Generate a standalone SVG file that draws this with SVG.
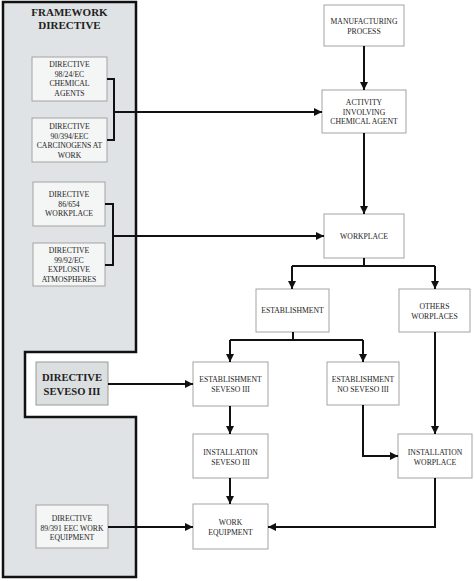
<svg xmlns="http://www.w3.org/2000/svg" width="474" height="581" viewBox="0 0 474 581">
<style>
text{font-family:"Liberation Serif","Times New Roman",serif;fill:#222;text-anchor:middle}
.s{font-size:7.7px}
.b{font-size:10.6px;font-weight:bold}
.t{font-size:11px;font-weight:bold}
.inner{fill:#f4f5f5;stroke:#a3a3a3;stroke-width:1}
.node{fill:#ffffff;stroke:#a3a3a3;stroke-width:1}
.sev{fill:#dbdfe0;stroke:#9a9a9a;stroke-width:1}
.c{fill:none;stroke:#111;stroke-width:2}
.a{marker-end:url(#ah)}
</style>
<defs>
<marker id="ah" markerUnits="userSpaceOnUse" markerWidth="9" markerHeight="8" refX="8" refY="4" orient="auto">
<path d="M0,0 L8,4 L0,8 Z" fill="#111"/>
</marker>
</defs>
<rect width="474" height="581" fill="#ffffff"/>
<g id="framework">
<path d="M3,2 H136 V352 H25 V417 H136 V577 H3 Z" fill="#dfe3e5" stroke="#111" stroke-width="2.5"/>
<text class="t" x="69.5" y="16">FRAMEWORK</text>
<text class="t" x="69.5" y="29">DIRECTIVE</text>
</g>
<g id="d9824">
<rect class="inner" x="32" y="57" width="75" height="44"/>
<text class="s" x="69.5" y="67">DIRECTIVE</text>
<text class="s" x="69.5" y="76.5">98/24/EC</text>
<text class="s" x="69.5" y="86">CHEMICAL</text>
<text class="s" x="69.5" y="95.5">AGENTS</text>
</g>
<g id="d90394">
<rect class="inner" x="32" y="118" width="75" height="44"/>
<text class="s" x="69.5" y="129">DIRECTIVE</text>
<text class="s" x="69.5" y="138.5">90/394/EEC</text>
<text class="s" x="69.5" y="148">CARCINOGENS AT</text>
<text class="s" x="69.5" y="157.5">WORK</text>
</g>
<g id="d86654">
<rect class="inner" x="33" y="182" width="72" height="44"/>
<text class="s" x="69" y="197">DIRECTIVE</text>
<text class="s" x="69" y="206.5">86/654</text>
<text class="s" x="69" y="216">WORKPLACE</text>
</g>
<g id="d9992">
<rect class="inner" x="33" y="243" width="72" height="43"/>
<text class="s" x="69" y="253">DIRECTIVE</text>
<text class="s" x="69" y="262.5">99/92/EC</text>
<text class="s" x="69" y="272">EXPLOSIVE</text>
<text class="s" x="69" y="281.5">ATMOSPHERES</text>
</g>
<g id="seveso">
<rect class="sev" x="36" y="362" width="72" height="43"/>
<text class="b" x="72" y="381">DIRECTIVE</text>
<text class="b" x="72" y="395">SEVESO III</text>
</g>
<g id="d89391">
<rect class="inner" x="36" y="505" width="72" height="43"/>
<text class="s" x="72" y="521">DIRECTIVE</text>
<text class="s" x="72" y="530.5">89/391 EEC WORK</text>
<text class="s" x="72" y="540">EQUIPMENT</text>
</g>
<g id="manufacturing">
<rect class="node" x="324" y="5" width="80" height="41"/>
<text class="s" x="364" y="24">MANUFACTURING</text>
<text class="s" x="364" y="33.5">PROCESS</text>
</g>
<g id="activity">
<rect class="node" x="322" y="90" width="84" height="43"/>
<text class="s" x="364" y="105">ACTIVITY</text>
<text class="s" x="364" y="114.5">INVOLVING</text>
<text class="s" x="364" y="124">CHEMICAL AGENT</text>
</g>
<g id="workplace">
<rect class="node" x="324" y="214" width="80" height="44"/>
<text class="s" x="364" y="239">WORKPLACE</text>
</g>
<g id="establishment">
<rect class="node" x="256" y="289" width="73" height="43"/>
<text class="s" x="292.5" y="313">ESTABLISHMENT</text>
</g>
<g id="others">
<rect class="node" x="399" y="289" width="71" height="43"/>
<text class="s" x="434.5" y="309">OTHERS</text>
<text class="s" x="434.5" y="318.5">WORPLACES</text>
</g>
<g id="estSeveso">
<rect class="node" x="193" y="362" width="75" height="44"/>
<text class="s" x="230.5" y="382">ESTABLISHMENT</text>
<text class="s" x="230.5" y="391.5">SEVESO III</text>
</g>
<g id="estNoSeveso">
<rect class="node" x="327" y="362" width="72" height="43"/>
<text class="s" x="363" y="382">ESTABLISHMENT</text>
<text class="s" x="363" y="391.5">NO SEVESO III</text>
</g>
<g id="instSeveso">
<rect class="node" x="193" y="434" width="75" height="44"/>
<text class="s" x="230.5" y="455">INSTALLATION</text>
<text class="s" x="230.5" y="464.5">SEVESO III</text>
</g>
<g id="instWorplace">
<rect class="node" x="398" y="434" width="74" height="44"/>
<text class="s" x="435" y="455">INSTALLATION</text>
<text class="s" x="435" y="464.5">WORPLACE</text>
</g>
<g id="workEquipment">
<rect class="node" x="193" y="504" width="75" height="45"/>
<text class="s" x="230.5" y="525">WORK</text>
<text class="s" x="230.5" y="534.5">EQUIPMENT</text>
</g>
<g id="connectors">
<path class="c" d="M107,79 H114 V140 H107"/>
<path class="c a" d="M114,112 H322"/>
<path class="c" d="M105,204 H113 V265 H105"/>
<path class="c a" d="M113,236 H324"/>
<path class="c a" d="M364,46 V90"/>
<path class="c a" d="M364,133 V214"/>
<path class="c" d="M364,258 V266 M292,266 H435"/>
<path class="c a" d="M292,266 V289"/>
<path class="c a" d="M435,266 V289"/>
<path class="c" d="M293,332 V340 M230,340 H363"/>
<path class="c a" d="M230,340 V362"/>
<path class="c a" d="M363,340 V362"/>
<path class="c a" d="M108,384 H193"/>
<path class="c a" d="M230,406 V434"/>
<path class="c a" d="M230,478 V504"/>
<path class="c a" d="M108,527 H193"/>
<path class="c a" d="M435,332 V434"/>
<path class="c a" d="M363,405 V456 H398"/>
<path class="c a" d="M435,478 V527 H268"/>
</g>
</svg>
